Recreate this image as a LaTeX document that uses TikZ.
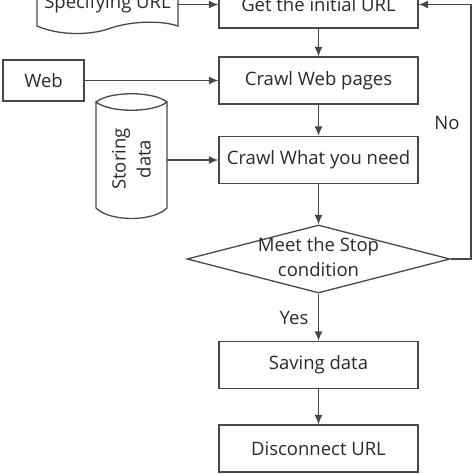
\documentclass[tikz,border=0pt]{standalone}
\usepackage{fontspec}
\setmainfont{Open Sans}
\usetikzlibrary{arrows.meta,shapes.geometric}
\definecolor{ln}{HTML}{484848}
\definecolor{tx}{HTML}{2A2A2A}
\begin{document}
\begin{tikzpicture}[x=1pt,y=-1pt,
  every node/.style={font=\fontsize{18.5}{25}\selectfont, text=tx},
  proc/.style={draw=ln, line width=1.3pt, minimum width=199pt, minimum height=47pt, inner sep=0pt},
  conn/.style={draw=ln, line width=1.3pt, -{Latex[length=9.5pt,width=8pt]}}]
\useasboundingbox (0,0) rectangle (474,474);
\node[proc] (init) at (318.5,4.5) {Get the initial URL};
\node[proc] (crawl) at (318.5,80.5) {Crawl Web pages};
\node[proc] (need) at (318.5,160) {Crawl What you need};
\node[diamond, draw=ln, line width=1.3pt, minimum width=263pt, minimum height=68pt, inner sep=0pt, aspect=3.87] (stop) at (318.5,259) {};
\node[align=center] (stoptxt) at (318.5,257.5) {Meet the Stop\\condition};
\node[proc] (save) at (318.5,365) {Saving data};
\node[proc] (disc) at (318.5,448.5) {Disconnect URL};
\node[draw=ln, line width=1.3pt, minimum width=81pt, minimum height=41pt, inner sep=0pt] (web) at (43.5,80.5) {Web};
% document shape
\draw[ln, line width=1.3pt] (37,-20) -- (37,26) .. controls (60,36) and (90,35) .. (108,29) .. controls (130,21) and (160,20) .. (178,26) -- (178,-20);
\coordinate (specR) at (178,4.5);
\node (spec) at (107.5,4) {Specifying URL};
% cylinder
\draw[ln, line width=1.3pt] (96,102) .. controls (110,91) and (153,91) .. (167,102)
  .. controls (153,113) and (110,113) .. (96,102) -- (96,208)
  .. controls (110,222) and (153,222) .. (167,208) -- (167,102);
\coordinate (cylR) at (167,160);
\node[rotate=90, align=center] (stor) at (131.5,159) {Storing\\data};
% connectors
\draw[conn] (specR) -- (init.west);
\draw[conn] (web.east) -- (crawl.west);
\draw[conn] (cylR) -- (need.west);
\draw[conn] (init) -- (crawl);
\draw[conn] (crawl) -- (need);
\draw[conn] (need) -- (stop.north);
\draw[conn] (stop.south) -- (save);
\node (yes) at (294,318) {Yes};
\draw[conn] (save) -- (disc);
\coordinate (loopc) at (471,259);
\draw[conn] (stop.east) -- (loopc) |- (init.east);
\node (no) at (447,123) {No};
\end{tikzpicture}
\end{document}
